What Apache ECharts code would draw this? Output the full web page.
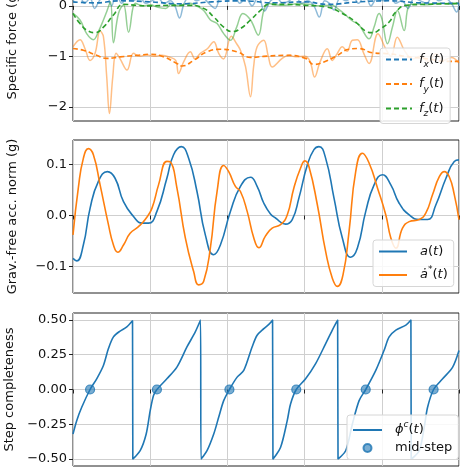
<!DOCTYPE html>
<html lang="en">
  <head>
    <meta charset="UTF-8" />
    <title>Step phase</title>
    <style>
      html, body { margin: 0; padding: 0; background: #fff; }
      #main { width: 474px; height: 474px; }
    </style>
  </head>
  <body>
    <div id="main"></div>
    <script src="https://cdn.jsdelivr.net/npm/echarts@6/dist/echarts.min.js"></script>
    <script>
      // --- data (t in tick units, 0..5) ---
      const fxRaw = [[0,0.1],[0.08,0.2],[0.15,0.05],[0.22,0.15],[0.28,-0.05],[0.34,0.1],[0.42,0.25],[0.5,0.0],[0.56,0.3],[0.63,0.05],[0.7,0.15],[0.78,0.1],[0.86,0.2],[0.94,0.05],[1.02,0.1],[1.1,0.15],[1.18,0.05],[1.26,0.1],[1.32,0.0],[1.38,-0.24],[1.44,0.05],[1.52,0.2],[1.6,0.1],[1.68,0.15],[1.76,0.05],[1.84,-0.05],[1.92,0.2],[2.0,0.1],[2.08,0.3],[2.16,0.05],[2.24,0.15],[2.32,0.0],[2.4,0.2],[2.48,-0.1],[2.56,0.1],[2.64,0.15],[2.72,0.05],[2.8,0.1],[2.88,0.2],[2.96,0.05],[3.04,0.1],[3.12,0.0],[3.19,-0.22],[3.26,0.1],[3.32,0.05],[3.38,-0.08],[3.46,0.15],[3.54,0.1],[3.62,0.2],[3.7,0.05],[3.78,0.25],[3.86,0.0],[3.94,0.15],[4.02,0.1],[4.1,0.3],[4.18,0.05],[4.26,0.1],[4.34,-0.05],[4.42,0.15],[4.5,0.1],[4.58,0.05],[4.66,0.2],[4.74,0.1],[4.82,0.15],[4.9,0.05],[4.97,-0.12],[5.0,0.05]];
      const fyRaw = [[0,-0.81],[0.091,-0.67],[0.156,-0.85],[0.221,-1.08],[0.286,-0.94],[0.351,-0.5],[0.394,-0.61],[0.437,-1.41],[0.472,-2.13],[0.515,-1.41],[0.558,-0.94],[0.61,-1.05],[0.7,-1.27],[0.784,-0.94],[0.86,-1.0],[0.95,-0.97],[1.05,-1.0],[1.15,-0.98],[1.26,-1.02],[1.33,-1.08],[1.368,-1.34],[1.433,-1.11],[1.52,-0.91],[1.58,-1.05],[1.65,-0.94],[1.74,-0.85],[1.823,-0.71],[1.887,-0.94],[1.95,-1.05],[2.05,-0.6],[2.12,-0.75],[2.169,-0.88],[2.234,-1.2],[2.299,-1.8],[2.34,-1.2],[2.385,-0.81],[2.47,-0.68],[2.53,-1.0],[2.58,-1.21],[2.71,-1.04],[2.8,-0.98],[2.883,-1.01],[3.0,-1.0],[3.07,-1.1],[3.13,-1.41],[3.2,-1.11],[3.294,-0.85],[3.359,-1.08],[3.42,-0.95],[3.489,-0.81],[3.55,-0.9],[3.619,-0.68],[3.684,-0.67],[3.766,-0.94],[3.836,-1.14],[3.95,-0.55],[4.05,-0.85],[4.12,-1.0],[4.2,-0.62],[4.3,-0.9],[4.4,-1.05],[4.5,-1.0],[4.6,-1.1],[4.7,-0.95],[4.8,-1.08],[4.9,-1.02],[5.0,-1.13]];
      const fzRaw = [[0,-0.15],[0.091,-0.28],[0.177,-0.55],[0.264,-0.67],[0.329,-0.51],[0.394,-0.28],[0.44,-0.1],[0.485,0.08],[0.524,-0.73],[0.589,-0.15],[0.654,0.02],[0.72,-0.52],[0.81,0.05],[0.9,0.0],[1.0,0.02],[1.1,-0.03],[1.2,-0.05],[1.28,0.04],[1.36,0.0],[1.44,0.03],[1.52,0.05],[1.6,0.0],[1.693,-0.09],[1.78,-0.28],[1.866,-0.35],[1.952,-0.55],[2.04,-0.68],[2.12,-0.42],[2.2,-0.15],[2.3,-0.28],[2.4,-0.58],[2.47,-0.1],[2.53,0.05],[2.62,0.02],[2.753,0.01],[2.9,0.04],[3.05,0.03],[3.2,0.0],[3.35,0.01],[3.45,-0.08],[3.53,-0.18],[3.62,-0.3],[3.706,-0.38],[3.836,-0.65],[3.9,-0.42],[3.965,-0.15],[4.0,-0.25],[4.074,-0.75],[4.138,-0.42],[4.203,-0.09],[4.29,-0.49],[4.35,0.0],[4.45,0.04],[4.6,0.02],[4.75,0.05],[4.9,0.03],[5.0,0.05]];
      const fxDash = [[0,0.08],[0.3,0.06],[0.6,0.1],[1.0,0.08],[1.4,0.04],[1.8,0.08],[2.2,0.1],[2.6,0.06],[3.0,0.08],[3.3,0.03],[3.7,0.08],[4.1,0.1],[4.5,0.06],[5.0,0.05]];
      const fyDash = [[0,-0.845],[0.134,-0.88],[0.307,-0.98],[0.437,-1.04],[0.61,-1.01],[0.827,-0.98],[1.0,-0.96],[1.173,-1.01],[1.346,-1.14],[1.411,-1.19],[1.563,-1.08],[1.736,-0.91],[1.909,-0.86],[2.126,-0.91],[2.299,-1.02],[2.472,-1.0],[2.753,-0.98],[3.013,-1.04],[3.121,-1.16],[3.251,-1.11],[3.403,-1.0],[3.576,-0.86],[3.706,-0.845],[3.879,-0.93],[4.1,-0.95],[4.3,-1.0],[4.6,-1.05],[4.85,-1.1],[5.0,-1.1]];
      const fzDash = [[0,-0.15],[0.091,-0.35],[0.199,-0.5],[0.286,-0.53],[0.394,-0.42],[0.524,-0.18],[0.654,0.03],[0.827,0.01],[1.0,0],[1.26,0.01],[1.52,0.01],[1.693,-0.05],[1.823,-0.22],[1.952,-0.42],[2.06,-0.51],[2.169,-0.45],[2.299,-0.28],[2.429,-0.09],[2.537,0.03],[2.753,0.03],[3.013,0.01],[3.273,-0.02],[3.489,-0.15],[3.662,-0.32],[3.792,-0.5],[3.879,-0.53],[3.987,-0.45],[4.095,-0.32],[4.182,-0.12],[4.312,0.01],[4.571,0.03],[5.0,0.05]];

      const accNorm = [[0,-0.084],[0.048,-0.089],[0.134,-0.058],[0.221,0.014],[0.329,0.067],[0.446,0.086],[0.545,0.073],[0.654,0.027],[0.784,-0.002],[0.892,-0.015],[0.978,-0.015],[1.087,0.008],[1.216,0.073],[1.303,0.119],[1.403,0.135],[1.498,0.112],[1.606,0.047],[1.714,-0.038],[1.823,-0.077],[1.909,-0.058],[2.039,0.008],[2.169,0.057],[2.299,0.075],[2.385,0.057],[2.472,0.024],[2.558,0.003],[2.623,-0.005],[2.753,-0.017],[2.84,-0.008],[2.926,0.034],[3.035,0.099],[3.121,0.129],[3.186,0.135],[3.273,0.112],[3.381,0.034],[3.489,-0.044],[3.597,-0.082],[3.684,-0.064],[3.792,0.008],[3.9,0.06],[4.009,0.08],[4.117,0.06],[4.225,0.024],[4.355,0.001],[4.485,-0.008],[4.593,-0.008],[4.701,0.021],[4.831,0.073],[4.939,0.106],[5.0,0.109]];
      const accDot = [[0,-0.038],[0.069,0.054],[0.134,0.112],[0.199,0.131],[0.264,0.119],[0.351,0.06],[0.459,-0.018],[0.524,-0.058],[0.58,-0.072],[0.654,-0.058],[0.74,-0.035],[0.848,-0.022],[0.935,-0.008],[1.022,0.014],[1.108,0.06],[1.216,0.106],[1.26,0.105],[1.346,0.054],[1.455,-0.044],[1.563,-0.11],[1.628,-0.136],[1.693,-0.129],[1.779,-0.064],[1.866,0.047],[1.952,0.098],[2.017,0.086],[2.104,0.057],[2.169,0.047],[2.256,0.008],[2.342,-0.044],[2.407,-0.063],[2.494,-0.04],[2.58,-0.025],[2.688,-0.018],[2.775,0.001],[2.861,0.054],[2.948,0.093],[3.005,0.107],[3.056,0.096],[3.165,0.021],[3.273,-0.071],[3.359,-0.123],[3.424,-0.139],[3.498,-0.116],[3.576,-0.031],[3.662,0.086],[3.749,0.122],[3.835,0.103],[3.944,0.054],[4.052,0.001],[4.117,-0.044],[4.182,-0.064],[4.268,-0.025],[4.355,-0.012],[4.485,-0.008],[4.571,0.005],[4.658,0.041],[4.745,0.076],[4.81,0.086],[4.874,0.076],[4.939,0.041],[5.0,-0.008]];

      const phase = [[0.0,-0.32],[0.048,-0.224],[0.113,-0.128],[0.221,0],[0.307,0.077],[0.394,0.173],[0.459,0.294],[0.524,0.378],[0.61,0.42],[0.697,0.45],[0.771,0.494],[0.775,-0.5],[0.87,-0.44],[0.948,-0.32],[1.0,-0.152],[1.043,-0.043],[1.087,0],[1.216,0.077],[1.346,0.161],[1.476,0.306],[1.584,0.414],[1.652,0.499],[1.658,-0.5],[1.736,-0.44],[1.823,-0.32],[1.887,-0.2],[1.952,-0.08],[2.026,0],[2.126,0.089],[2.212,0.137],[2.32,0.306],[2.385,0.39],[2.472,0.438],[2.54,0.47],[2.585,0.499],[2.59,-0.5],[2.688,-0.417],[2.775,-0.224],[2.818,-0.104],[2.892,0],[3.013,0.077],[3.143,0.186],[3.273,0.33],[3.359,0.427],[3.428,0.499],[3.433,-0.5],[3.532,-0.44],[3.619,-0.248],[3.706,-0.08],[3.792,0],[3.922,0.137],[4.03,0.282],[4.095,0.378],[4.182,0.427],[4.312,0.463],[4.377,0.499],[4.381,-0.5],[4.485,-0.44],[4.55,-0.27],[4.593,-0.128],[4.671,0],[4.788,0.077],[4.918,0.161],[5.0,0.28]];
      const midStep = [[0.221,0],[1.087,0],[2.026,0],[2.892,0],[3.792,0],[4.671,0]];

      const forceTicks = [-2, -1, 0];
      const accTicks = [-0.1, 0, 0.1];
      const phaseTicks = [-0.5, -0.25, 0, 0.25, 0.5];

      const BLUE = "#1f77b4", ORANGE = "#ff7f0e", GREEN = "#2ca02c";
      const FONT = "DejaVu Sans";

      const myChart = echarts.init(document.getElementById("main"));

      const minus = (s) => s.replace("-", "\u2212");
      const tops = [-32, 140, 313];

      function grid(top) {
        return {
          left: 73, right: 15, top: top, height: 153,
          show: true, borderColor: "#222", borderWidth: 1,
          backgroundColor: "transparent", outerBoundsMode: "none",
          containLabel: false,
        };
      }
      function xAxis(i) {
        return {
          type: "value", gridIndex: i, min: 0, max: 5, interval: 1,
          axisLine: { show: false },
          axisTick: { show: true, length: 4, lineStyle: { color: "#222" } },
          axisLabel: { show: false },
          splitLine: { show: true, lineStyle: { color: "#cfcfcf", width: 1 } },
        };
      }
      function yAxis(i, min, max, ticks, digits, name) {
        return {
          type: "value", gridIndex: i, min: min, max: max,
          name: name, nameLocation: "middle", nameGap: 54,
          nameTextStyle: { fontFamily: FONT, fontSize: 13, color: "#111" },
          axisLine: { show: false },
          axisTick: { show: true, length: 4, customValues: ticks, lineStyle: { color: "#222" } },
          axisLabel: {
            customValues: ticks, fontFamily: FONT, fontSize: 13, color: "#111", margin: 6,
            formatter: (v) => minus(Number(v).toFixed(digits)),
          },
          splitLine: { show: true, lineStyle: { color: "#cfcfcf", width: 1 } },
        };
      }
      // legend entries for line series: hide the symbol ECharts adds to the icon
      const lineItem = (name) => ({ name: name, itemStyle: { opacity: 0, color: "transparent", borderWidth: 0 } });
      function legend(items, left, top, lineW, iconH, gap, textPad) {
        return {
          data: items, orient: "vertical", left: left, top: top,
          itemWidth: lineW, itemHeight: iconH, itemGap: gap,
          padding: [5, 6, 5, 5],
          backgroundColor: "rgba(255,255,255,0.85)",
          borderColor: "#d6d6d6", borderWidth: 1, borderRadius: 3,
          selectedMode: false,
          textStyle: {
            fontFamily: FONT, fontSize: 13, color: "#111", padding: [0, 0, 0, textPad],
            rich: {
              it: { fontFamily: FONT, fontSize: 13, fontStyle: "italic", color: "#111", lineHeight: 16 },
              n: { fontFamily: FONT, fontSize: 13, color: "#111", lineHeight: 16 },
              sub: { fontFamily: FONT, fontSize: 9, fontStyle: "italic", color: "#111", lineHeight: 16, verticalAlign: "bottom", padding: [0, 0, -2, 0] },
              sup: { fontFamily: FONT, fontSize: 9, fontStyle: "italic", color: "#111", lineHeight: 16, verticalAlign: "top", padding: [-2, 0, 0, 0] },
            },
          },
          formatter: (n) => legendText[n],
        };
      }
      const legendText = {
        fx: "{it|f}{sub|x}{n|(}{it|t}{n|)}",
        fy: "{it|f}{sub|y}{n|(}{it|t}{n|)}",
        fz: "{it|f}{sub|z}{n|(}{it|t}{n|)}",
        a: "{it|a}{n|(}{it|t}{n|)}",
        adot: "{it|\u0227}{sup|*}{n|(}{it|t}{n|)}",
        phi: "{it|\u03d5}{sup|c}{n|(}{it|t}{n|)}",
        mid: "{n|mid-step}",
      };

      function line(name, data, color, xi, opts) {
        return Object.assign({
          name: name, type: "line", data: data, xAxisIndex: xi, yAxisIndex: xi,
          showSymbol: false, symbol: "none", smooth: 0.5,
          lineStyle: { color: color, width: 1.6 }, itemStyle: { color: color },
          animation: false, silent: true,
        }, opts || {});
      }

      const option = {
        animation: false,
        textStyle: { fontFamily: FONT },
        grid: tops.map(grid),
        xAxis: [0, 1, 2].map(xAxis),
        yAxis: [
          yAxis(0, -2.28, 0.75, forceTicks, 0, "Specific force (g)"),
          yAxis(1, -0.152, 0.148, accTicks, 1, "Grav.-free acc. norm (g)"),
          yAxis(2, -0.55, 0.55, phaseTicks, 2, "Step completeness"),
        ],
        legend: [
          legend(["fx", "fy", "fz"].map(lineItem), 380, 48, 26, 12, 8, 2),
          legend(["a", "adot"].map(lineItem), 373, 240, 28, 12, 7, 8),
          legend([lineItem("phi"), "mid"], 347, 415, 29, 8, 5, 8),
        ],
        series: [
          line("fxr", fxRaw, BLUE, 0, { lineStyle: { color: BLUE, width: 1.5, opacity: 0.5 }, smooth: 0.4 }),
          line("fyr", fyRaw, ORANGE, 0, { lineStyle: { color: ORANGE, width: 1.5, opacity: 0.5 }, smooth: 0.4 }),
          line("fzr", fzRaw, GREEN, 0, { lineStyle: { color: GREEN, width: 1.5, opacity: 0.5 }, smooth: 0.4 }),
          line("fx", fxDash, BLUE, 0, { lineStyle: { color: BLUE, width: 1.6, type: [5, 3] } }),
          line("fy", fyDash, ORANGE, 0, { lineStyle: { color: ORANGE, width: 1.6, type: [5, 3] } }),
          line("fz", fzDash, GREEN, 0, { lineStyle: { color: GREEN, width: 1.6, type: [5, 3] } }),
          line("a", accNorm, BLUE, 1),
          line("adot", accDot, ORANGE, 1),
          line("phi", phase, BLUE, 2, { smooth: 0.3 }),
          {
            name: "mid", type: "scatter", data: midStep, xAxisIndex: 2, yAxisIndex: 2,
            symbol: "circle", symbolSize: 9,
            itemStyle: { color: "rgba(31,119,180,0.75)", borderColor: BLUE, borderWidth: 1.2 },
            animation: false, silent: true, z: 3,
          },
        ],
      };
      myChart.setOption(option);
    </script>
  </body>
</html>
